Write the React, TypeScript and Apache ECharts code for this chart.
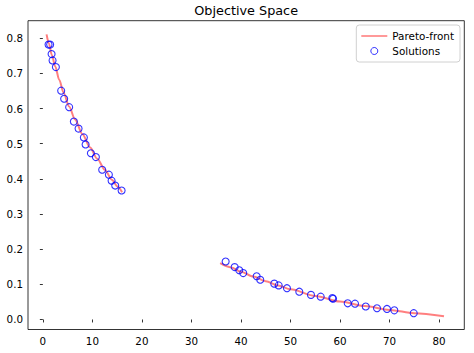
import React, { useEffect, useRef } from "react";
import * as echarts from "echarts";

// Pareto front (two disconnected segments)
const frontLeftX = [0.75, 1.2, 1.8, 2.5, 3.3, 4.2, 5.3, 6.5, 8.0, 9.5, 11.0, 12.5, 14.0, 15.0, 16.0];
const frontLeftY = [0.811, 0.786, 0.753, 0.72, 0.682, 0.645, 0.606, 0.569, 0.527, 0.49, 0.457, 0.426, 0.397, 0.379, 0.362];
const frontRightX = [35.8, 38.0, 40.0, 42.5, 45.0, 47.5, 50.0, 55.0, 60.0, 65.0, 70.0, 75.0, 81.0];
const frontRightY = [0.16, 0.148, 0.136, 0.122, 0.109, 0.097, 0.086, 0.067, 0.051, 0.038, 0.027, 0.018, 0.009];

// Solutions
const solutionX = [
  1.15, 1.47, 1.76, 1.96, 2.63, 3.7, 4.3, 5.31, 6.26, 7.21, 8.28, 8.63, 9.7, 10.71, 11.98, 13.33, 13.88, 14.61, 15.9,
  36.91, 38.73, 39.66, 40.46, 43.17, 43.9, 46.73, 47.62, 49.29, 51.78, 54.14, 56.1, 58.45, 58.6, 61.56, 63.03, 65.2,
  67.47, 69.49, 70.97, 74.89,
];
const solutionY = [
  0.782, 0.782, 0.755, 0.737, 0.718, 0.651, 0.628, 0.604, 0.563, 0.543, 0.518, 0.498, 0.473, 0.462, 0.426, 0.412, 0.395,
  0.381, 0.367, 0.165, 0.149, 0.14, 0.132, 0.123, 0.113, 0.102, 0.097, 0.089, 0.079, 0.07, 0.065, 0.061, 0.059, 0.046,
  0.045, 0.037, 0.032, 0.03, 0.026, 0.018,
];

const xTicks = [0, 10, 20, 30, 40, 50, 60, 70, 80];
const yTicks = [0, 0.1, 0.2, 0.3, 0.4, 0.5, 0.6, 0.7, 0.8];

const title = "Objective Space";
const FONT = "DejaVu Sans";

export default function App() {
  const ref = useRef<HTMLDivElement>(null);
  useEffect(() => {
    if (!ref.current) return;
    const chart = echarts.init(ref.current, null, { renderer: "svg" });
    const left = 28;
    const right = 464.3;
    const top = 20.7;
    const bottom = 329.5;
    const lineColor = "rgba(255,0,0,0.5)";
    chart.setOption({
      animation: false,
      backgroundColor: "#ffffff",
      textStyle: { fontFamily: FONT },
      grid: {
        left,
        top,
        width: right - left,
        height: bottom - top,
        show: true,
        borderColor: "#000000",
        borderWidth: 0.8,
        backgroundColor: "transparent",
        outerBoundsMode: "none",
        containLabel: false,
      },
      graphic: [
        {
          type: "text",
          x: (left + right) / 2,
          y: 10.5,
          style: {
            text: title,
            font: `12.8px "${FONT}"`,
            fill: "#000000",
            textAlign: "center",
            textVerticalAlign: "middle",
          },
        },
      ],
      legend: {
        right: 14,
        top: 25,
        orient: "vertical",
        align: "left",
        backgroundColor: "#ffffff",
        borderColor: "#d0d0d0",
        borderWidth: 1,
        borderRadius: 3,
        padding: [6, 6, 6, 5],
        itemWidth: 26,
        itemHeight: 7,
        itemGap: 5,
        textStyle: { fontFamily: FONT, fontSize: 10.4, color: "#000000" },
        data: [
          {
            name: "Pareto-front",
            icon: "path://M0,0 L26,0 L26,1.6 L0,1.6 Z",
            itemStyle: { color: lineColor, borderWidth: 0 },
          },
          {
            name: "Solutions",
            icon: "circle",
            itemStyle: { color: "transparent", borderColor: "#0000ff", borderWidth: 1 },
          },
        ],
      },
      xAxis: {
        type: "value",
        min: -3,
        max: 85.1,
        splitLine: { show: false },
        axisLine: { show: false },
        axisTick: {
          show: true,
          inside: false,
          length: 3,
          lineStyle: { color: "#000000", width: 0.8 },
          customValues: xTicks,
        },
        axisLabel: {
          customValues: xTicks,
          margin: 6,
          fontSize: 10.3,
          color: "#000000",
          fontFamily: FONT,
          formatter: (v: number) => String(v),
        },
      },
      yAxis: {
        type: "value",
        min: -0.0285,
        max: 0.85,
        splitLine: { show: false },
        axisLine: { show: false },
        axisTick: {
          show: true,
          inside: false,
          length: 3,
          lineStyle: { color: "#000000", width: 0.8 },
          customValues: yTicks,
        },
        axisLabel: {
          customValues: yTicks,
          margin: 5,
          fontSize: 10.3,
          color: "#000000",
          fontFamily: FONT,
          formatter: (v: number) => v.toFixed(1),
        },
      },
      series: [
        {
          name: "Pareto-front",
          type: "line",
          data: frontLeftX.map((x, i) => [x, frontLeftY[i]]),
          showSymbol: false,
          smooth: 0.3,
          smoothMonotone: "x",
          lineStyle: { color: lineColor, width: 2 },
          itemStyle: { color: lineColor },
          z: 1,
        },
        {
          name: "Pareto-front",
          type: "line",
          data: frontRightX.map((x, i) => [x, frontRightY[i]]),
          showSymbol: false,
          smooth: 0.3,
          smoothMonotone: "x",
          lineStyle: { color: lineColor, width: 2 },
          itemStyle: { color: lineColor },
          z: 1,
        },
        {
          name: "Solutions",
          type: "scatter",
          data: solutionX.map((x, i) => [x, solutionY[i]]),
          symbol: "circle",
          symbolSize: 7,
          itemStyle: { color: "transparent", borderColor: "#0000ff", borderWidth: 1.1 },
          z: 2,
        },
      ],
    });
    return () => chart.dispose();
  }, []);
  return (
    <div
      ref={ref}
      style={{ position: "fixed", left: 0, top: 0, width: 474, height: 353 }}
    />
  );
}
